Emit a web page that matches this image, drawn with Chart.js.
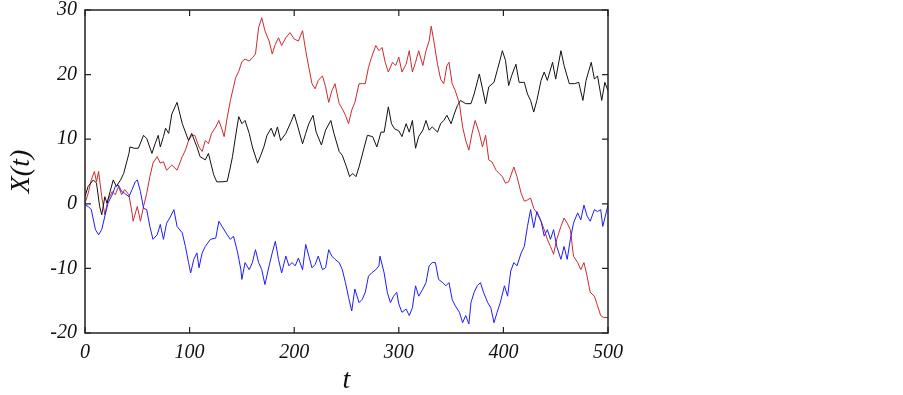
<!DOCTYPE html>
<html>
<head>
<meta charset="utf-8">
<script src="https://cdn.jsdelivr.net/npm/chart.js@4.4.1/dist/chart.umd.min.js"></script>
<style>
	body { margin: 0; background: #fff; }
	#walks { display: block; }
</style>
</head>
<body>
<canvas id="walks" width="903" height="395"></canvas>
<script>
// three random walks X(t) as (t, X) pairs
const blackT = [0,3,8,11,14,16,19,21,24,27,30,34,37,42,43,47,51,56,59,64,67,70,72,75,77,80,83,88,93,96,99,102,107,110,115,118,123,126,131,136,139,141,144,147,150,153,157,160,165,168,171,174,178,181,184,187,192,197,200,203,208,211,214,218,221,226,230,235,238,243,246,250,253,256,259,262,267,270,275,279,283,286,290,293,296,300,303,307,310,313,316,319,323,326,329,332,337,340,343,346,350,353,356,359,364,369,372,377,380,383,386,391,394,397,399,402,405,408,412,415,420,423,426,429,432,436,439,442,447,450,455,458,463,468,472,476,479,484,487,490,494,497,500];
const blackX = [1.1,2.7,3.7,3.2,-0.4,-1.7,1.1,0.1,1.9,3.7,2.7,3.7,4.7,7.8,8.8,8.6,8.6,10.6,10.1,7.8,9.3,10.6,8.8,10.4,11.7,10.9,13.9,15.7,12.4,11.1,9.8,10.9,8.8,7.3,6.8,7.8,4.5,3.4,3.4,3.5,5.7,7.3,10.5,13.5,12.4,12.9,10.9,8.8,6.3,7.5,8.8,10.6,11.7,10.4,11.9,9.8,10.9,12.7,13.9,12.2,9.3,10.9,12.4,13.7,11.1,9.1,11.4,12.9,10.9,8.1,7.5,5.7,4.2,4.7,4.2,5.7,8.8,10.6,10.4,8.8,11.1,11.1,15.0,12.4,11.6,11.3,10.4,12.4,11.1,12.9,8.6,10.4,11.4,12.9,11.4,11.9,11.1,12.4,12.9,13.7,12.4,13.9,15.2,16.0,15.5,15.5,17.0,20.1,17.8,15.5,18.1,18.8,20.6,22.4,23.7,22.2,18.3,19.9,21.6,18.8,18.8,17.0,16.0,14.2,16.0,19.1,20.4,19.1,21.9,19.3,23.7,21.4,18.6,18.6,18.8,16.0,19.1,21.9,19.3,19.8,16.0,18.8,17.5];

const redT = [0,3,6,9,11,13,16,19,22,26,29,32,35,38,42,45,46,50,53,56,59,62,65,69,72,75,78,83,88,93,96,99,102,105,109,112,115,118,121,125,128,131,133,136,139,144,147,150,153,157,160,163,166,169,172,176,179,182,185,188,192,196,200,204,208,211,214,217,220,223,227,230,233,236,239,243,246,249,252,255,258,262,265,268,271,274,278,281,284,287,290,294,297,300,303,307,310,313,316,319,323,326,329,331,334,337,340,343,346,348,351,354,358,361,364,367,370,373,377,380,383,386,389,393,396,399,402,405,410,413,417,420,423,426,429,432,436,439,442,445,448,451,455,458,461,464,467,471,474,477,480,483,487,490,493,496,500];
const redX = [0.1,1.6,3.7,5.0,3.4,5.0,1.1,-1.7,0.6,1.9,1.4,2.7,1.4,2.2,1.4,-1.4,-2.7,-0.4,-2.7,-0.4,1.6,4.2,6.3,7.3,6.3,6.5,5.2,6.0,5.2,7.3,8.3,9.8,10.6,10.6,8.8,8.1,9.8,9.3,10.9,11.9,12.9,11.5,10.4,13.4,16.0,19.5,20.5,22.0,22.4,22.1,22.6,23.2,27.3,28.8,26.8,25.2,23.2,24.7,25.7,24.5,25.7,26.5,25.5,25.2,26.8,23.7,21.1,18.6,17.8,19.1,19.8,18.1,15.7,17.5,18.6,15.5,14.7,13.7,12.4,14.5,15.7,18.6,18.6,18.6,21.1,22.7,24.5,23.7,24.2,21.9,20.4,21.9,21.4,22.7,20.4,21.6,23.7,20.4,21.9,23.7,21.4,23.7,25.2,27.5,24.7,21.6,19.3,18.6,21.4,21.9,18.6,17.5,15.5,11.9,9.8,8.3,10.9,12.9,10.9,8.8,10.6,6.8,6.5,5.2,4.7,4.2,3.2,3.4,5.7,4.2,1.6,0.4,0.6,0.9,-0.7,-1.4,-2.7,-4.0,-5.5,-6.6,-7.8,-5.5,-3.5,-2.2,-3.0,-4.0,-8.1,-9.1,-10.2,-9.1,-11.2,-13.7,-14.3,-15.8,-17.3,-17.6,-17.6];

const blueT = [0,3,6,10,13,16,19,22,26,29,32,35,38,42,45,48,50,53,56,59,62,65,69,72,75,78,81,85,88,93,96,99,101,104,107,109,112,115,120,125,128,131,136,139,142,146,149,150,153,157,160,163,166,169,172,176,179,182,185,188,192,195,198,201,204,208,211,214,217,220,223,227,230,233,236,239,243,246,249,252,255,258,262,265,268,271,274,278,281,282,286,289,292,295,298,300,303,307,310,313,316,319,323,326,329,332,335,338,342,345,348,351,354,358,361,364,367,369,372,375,378,381,385,388,391,394,397,401,404,407,410,413,417,420,423,426,429,432,436,439,442,445,448,451,455,458,461,464,467,471,474,477,480,483,487,490,493,495,500];
const blueX = [-0.2,-0.4,-0.9,-4.0,-4.8,-4.0,-1.9,0.1,1.4,2.7,2.9,1.9,1.6,1.1,2.2,3.4,3.7,1.9,-0.7,-0.9,-3.5,-5.5,-4.8,-3.2,-5.5,-3.0,-2.2,-0.9,-3.5,-4.5,-6.6,-9.1,-10.7,-8.6,-7.6,-9.9,-7.6,-6.6,-5.5,-5.3,-2.7,-3.5,-4.8,-5.5,-5.0,-7.6,-10.2,-11.7,-9.1,-10.2,-9.1,-7.1,-9.1,-10.2,-12.5,-9.6,-7.6,-5.8,-8.6,-10.7,-8.1,-9.6,-9.1,-9.6,-8.4,-10.2,-6.3,-8.1,-9.9,-9.4,-8.1,-10.2,-9.9,-7.1,-8.1,-8.6,-9.1,-10.2,-12.2,-14.5,-16.6,-13.2,-15.3,-14.8,-13.7,-11.2,-10.7,-10.2,-9.6,-8.1,-10.7,-13.7,-15.3,-14.3,-13.7,-15.5,-16.8,-16.3,-17.3,-16.1,-12.7,-14.3,-13.2,-12.2,-9.6,-9.1,-9.1,-11.7,-12.2,-12.7,-12.2,-14.8,-15.8,-16.8,-18.4,-17.3,-18.6,-15.3,-13.7,-12.7,-12.2,-13.7,-15.3,-16.1,-18.4,-16.8,-15.3,-12.7,-14.3,-10.4,-9.1,-9.6,-7.6,-6.6,-3.5,-0.9,-3.7,-1.2,-2.7,-5.0,-4.0,-5.5,-4.0,-6.6,-8.6,-6.6,-8.6,-5.5,-3.0,-1.4,-2.5,-0.2,-1.9,-2.7,-0.9,-1.2,-0.9,-3.5,-0.2];

const xTicks = [0, 100, 200, 300, 400, 500];
const yTicks = [-20, -10, 0, 10, 20, 30];

const serif = { family: "'Liberation Serif', 'Times New Roman', serif", style: 'italic' };

function pairs(ts, xs) {
	return ts.map((t, i) => ({ x: t, y: xs[i] }));
}

// frame round the plot with short ticks pointing inward on all four sides
const frameTicks = {
	id: 'frameTicks',
	afterDatasetsDraw(chart) {
		const { ctx, chartArea: a, scales: { x, y } } = chart;
		ctx.save();
		ctx.strokeStyle = '#222';
		ctx.lineWidth = 1.5;
		ctx.strokeRect(a.left, a.top, a.right - a.left, a.bottom - a.top);
		ctx.lineWidth = 1.2;
		ctx.beginPath();
		x.ticks.forEach(t => {
			const px = x.getPixelForValue(t.value);
			ctx.moveTo(px, a.bottom); ctx.lineTo(px, a.bottom - 6);
			ctx.moveTo(px, a.top); ctx.lineTo(px, a.top + 6);
		});
		y.ticks.forEach(t => {
			const py = y.getPixelForValue(t.value);
			ctx.moveTo(a.left, py); ctx.lineTo(a.left + 6, py);
			ctx.moveTo(a.right, py); ctx.lineTo(a.right - 6, py);
		});
		ctx.stroke();
		ctx.restore();
	}
};

new Chart(document.getElementById('walks'), {
	type: 'line',
	data: {
		datasets: [
			{ label: 'walk 1', data: pairs(blueT, blueX), borderColor: '#1c1cff' },
			{ label: 'walk 2', data: pairs(blackT, blackX), borderColor: '#111' },
			{ label: 'walk 3', data: pairs(redT, redX), borderColor: '#cc2a2e' }
		]
	},
	options: {
		responsive: false,
		animation: false,
		devicePixelRatio: 1,
		layout: { padding: { top: 10, right: 295, left: 0, bottom: 0 } },
		elements: {
			line: { borderWidth: 1, tension: 0 },
			point: { radius: 0 }
		},
		plugins: { legend: { display: false }, tooltip: { enabled: false } },
		scales: {
			x: {
				type: 'linear',
				min: 0,
				max: 500,
				afterFit: s => { s.height = 62; },
				afterBuildTicks: s => { s.ticks = xTicks.map(v => ({ value: v })); },
				grid: { display: false, drawTicks: false },
				border: { display: false },
				ticks: { padding: 8, color: '#111', maxRotation: 0, font: { ...serif, size: 20 } },
				title: { display: true, text: 't', color: '#111', padding: 0, font: { ...serif, size: 28, lineHeight: 1 } }
			},
			y: {
				type: 'linear',
				min: -20,
				max: 30,
				afterFit: s => { s.width = 85; s.paddingTop = 0; s.paddingBottom = 0; },
				afterBuildTicks: s => { s.ticks = yTicks.map(v => ({ value: v })); },
				grid: { display: false, drawTicks: false },
				border: { display: false },
				ticks: { padding: 8, color: '#111', font: { ...serif, size: 20 } },
				title: { display: true, text: 'X(t)', color: '#111', padding: { top: 8, bottom: 0 }, font: { ...serif, size: 28, lineHeight: 1 } }
			}
		}
	},
	plugins: [frameTicks]
});
</script>
</body>
</html>
